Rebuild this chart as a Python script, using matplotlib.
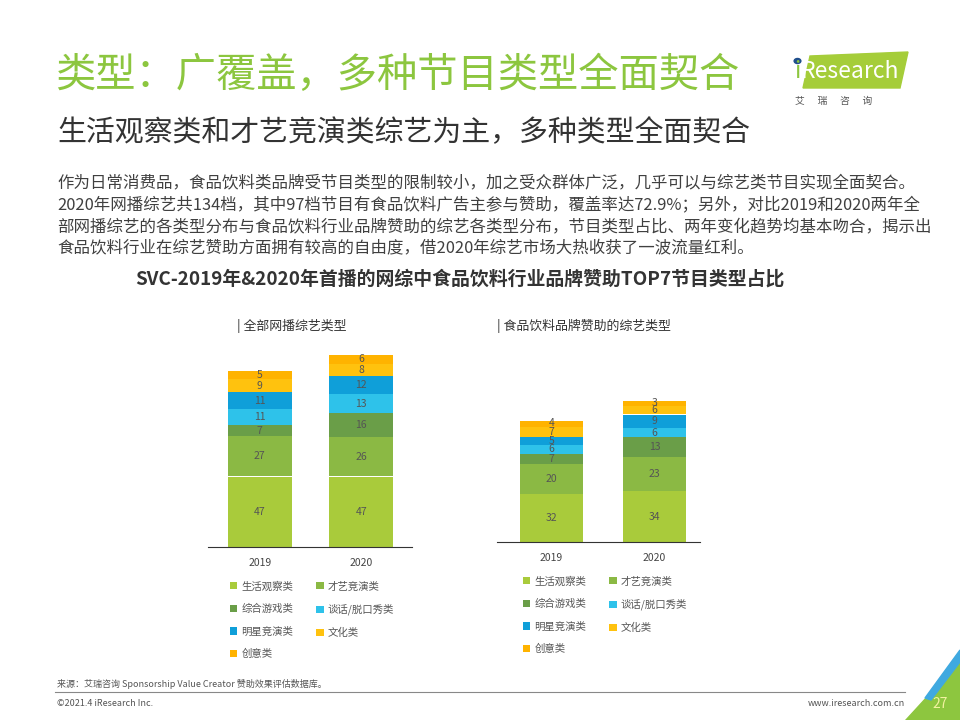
import matplotlib.pyplot as plt
from matplotlib.patches import Polygon

plt.rcParams['font.family'] = ['Noto Sans CJK SC', 'DejaVu Sans']

years = ['2019', '2020']
types = ['生活观察类', '才艺竞演类', '综合游戏类', '谈话/脱口秀类', '明星竞演类', '文化类', '创意类']
colors = ['#A9CB3B', '#8BB944', '#6A9E48', '#2EC2EA', '#0F9FD9', '#FFC20E', '#FFB300']

# bottom -> top, one list per type, values for 2019 / 2020
all_shows = [[47, 47], [27, 26], [7, 16], [11, 13], [11, 12], [9, 8], [5, 6]]
food_sponsored = [[32, 34], [20, 23], [7, 13], [6, 6], [5, 9], [7, 6], [4, 3]]

W, H = 960, 720
fig = plt.figure(figsize=(9.6, 7.2), dpi=100)


def fx(x):
    return x / W


def fy(y):
    return 1 - y / H


def px_axes(x0, x1, y_base, height):
    return fig.add_axes([fx(x0), fy(y_base), (x1 - x0) / W, height / H])


def stacked(ax, data, width, xlim):
    bottoms = [0, 0]
    handles = []
    for name, vals, c in zip(types, data, colors):
        h = ax.bar([0, 1], vals, width, bottom=bottoms, color=c, label=name)
        handles.append(h)
        for i, v in enumerate(vals):
            ax.text(i, bottoms[i] + v / 2, str(v), ha='center', va='center',
                    fontsize=7.5, color='#555555')
        bottoms = [b + v for b, v in zip(bottoms, vals)]
    ax.set_xlim(*xlim)
    ax.set_ylim(0, 140)
    ax.set_xticks([0, 1])
    ax.set_xticklabels(years, fontsize=7.5, color='#444444')
    ax.tick_params(axis='x', length=0, pad=8)
    ax.set_yticks([])
    for s in ['top', 'right', 'left']:
        ax.spines[s].set_visible(False)
    ax.spines['bottom'].set_color('#333333')
    ax.spines['bottom'].set_linewidth(0.8)
    return handles


def legend(ax, handles, x, y):
    order = [0, 2, 4, 6, 1, 3, 5]
    ax.legend([handles[i] for i in order], [types[i] for i in order],
              loc='upper left', bbox_to_anchor=(fx(x), fy(y)),
              bbox_transform=fig.transFigure, ncol=2, frameon=False,
              fontsize=7.5, handlelength=0.7, handleheight=0.7,
              handletextpad=0.4, labelspacing=1.2, columnspacing=2.2,
              labelcolor='#555555', borderaxespad=0, borderpad=0)


ax1 = px_axes(208, 412, 547, 210)
h1 = stacked(ax1, all_shows, 0.63, (-0.51, 1.50))
legend(ax1, h1, 230, 581)

ax2 = px_axes(497, 700, 542, 210)
h2 = stacked(ax2, food_sponsored, 0.61, (-0.53, 1.44))
legend(ax2, h2, 523, 576)

# header
fig.text(fx(55), fy(75), '类型：广覆盖，多种节目类型全面契合', fontsize=29,
         color='#8CC63F', va='center')
fig.text(fx(57), fy(133), '生活观察类和才艺竞演类综艺为主，多种类型全面契合',
         fontsize=20.8, color='#333333', va='center')
body = ['作为日常消费品，食品饮料类品牌受节目类型的限制较小，加之受众群体广泛，几乎可以与综艺类节目实现全面契合。',
        '2020年网播综艺共134档，其中97档节目有食品饮料广告主参与赞助，覆盖率达72.9%；另外，对比2019和2020两年全',
        '部网播综艺的各类型分布与食品饮料行业品牌赞助的综艺各类型分布，节目类型占比、两年变化趋势均基本吻合，揭示出',
        '食品饮料行业在综艺赞助方面拥有较高的自由度，借2020年综艺市场大热收获了一波流量红利。']
for i, line in enumerate(body):
    fig.text(fx(57), fy(183 + i * 21.7), line, fontsize=11.85, color='#404040', va='center')

fig.text(fx(460), fy(279), 'SVC-2019年&2020年首播的网综中食品饮料行业品牌赞助TOP7节目类型占比',
         fontsize=13.6, fontweight='bold', color='#333333', ha='center', va='center')
fig.text(fx(237), fy(326), '| 全部网播综艺类型', fontsize=9.3, fontweight='medium',
         color='#333333', va='center')
fig.text(fx(497), fy(326), '| 食品饮料品牌赞助的综艺类型', fontsize=9.3, fontweight='medium',
         color='#333333', va='center')

# logo
fig.patches.append(Polygon([(fx(803), fy(88)), (fx(900), fy(88)), (fx(908), fy(52)),
                            (fx(810), fy(56))], closed=True, color='#A5CD39',
                           transform=fig.transFigure))
fig.text(fx(794), fy(72), 'i', fontsize=16.5, color='#8CC63F', va='center')
fig.text(fx(801), fy(72), 'Research', fontsize=16.5, color='white', va='center')
fig.patches.append(plt.Circle((fx(797.5), fy(61)), 0.0035, color='#1F4E8C',
                              transform=fig.transFigure))
fig.text(fx(795), fy(101), '艾      瑞      咨      询', fontsize=7, color='#555555', va='center')

# footer
fig.text(fx(57), fy(684), '来源：艾瑞咨询 Sponsorship Value Creator 赞助效果评估数据库。',
         fontsize=6.5, color='#555555', va='center')
fig.add_artist(plt.Line2D([fx(55), fx(905)], [fy(692), fy(692)], color='#888888', lw=0.8))
fig.text(fx(57), fy(704), '©2021.4 iResearch Inc.', fontsize=6.5, color='#555555', va='center')
fig.text(fx(905), fy(704), 'www.iresearch.com.cn', fontsize=6.5, color='#555555',
         ha='right', va='center')
fig.patches.append(Polygon([(fx(905), fy(720)), (fx(960), fy(720)), (fx(960), fy(660))],
                           closed=True, color='#8DC63F', transform=fig.transFigure))
fig.patches.append(Polygon([(fx(925), fy(698)), (fx(960), fy(650)), (fx(960), fy(662)),
                            (fx(931), fy(700))], closed=True, color='#3FA9E0',
                           transform=fig.transFigure))
fig.text(fx(940), fy(704), '27', fontsize=10, color='#F2F2A0', ha='center', va='center')

fig.savefig('out.png', dpi=100)
